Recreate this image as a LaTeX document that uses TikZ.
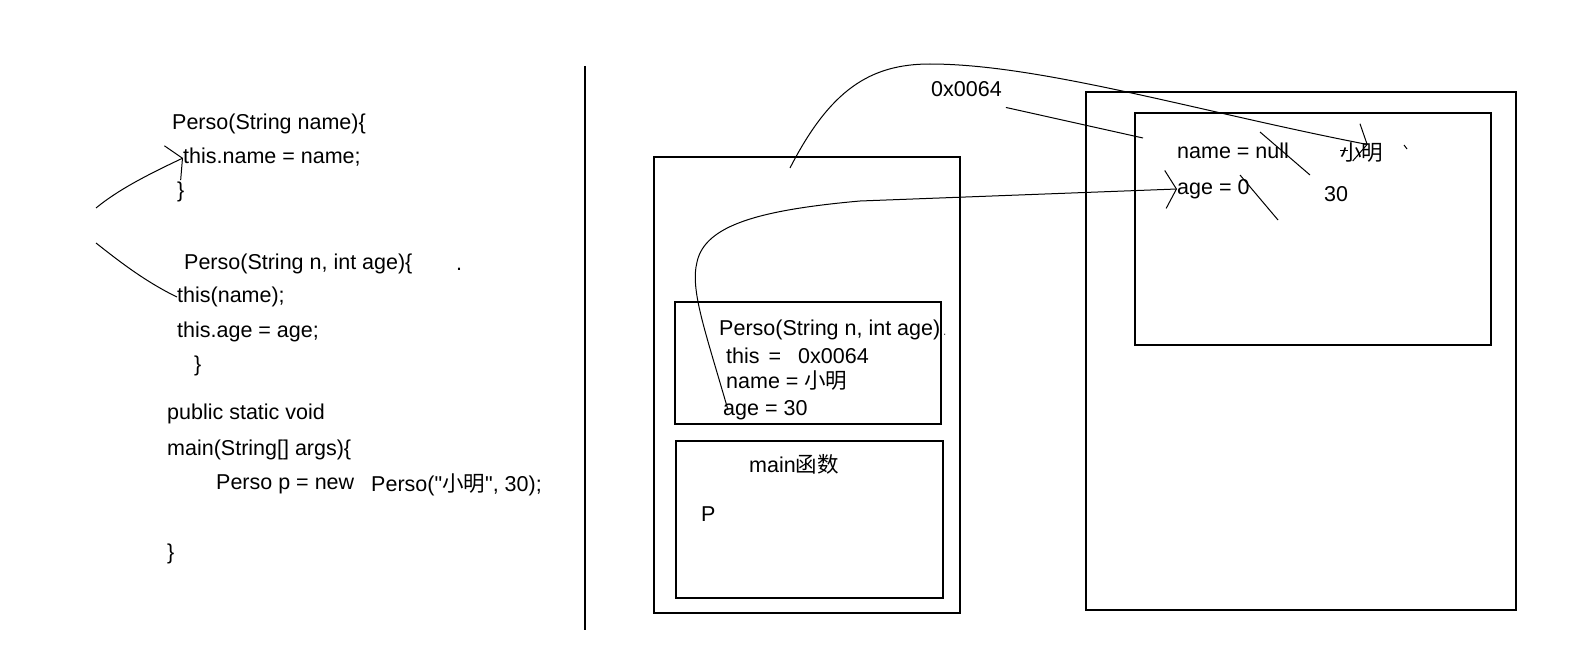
\documentclass[tikz,border=0pt]{standalone}
\usepackage{fontspec}
\setmainfont{Liberation Sans}[Ligatures=TeXOff]
\newfontfamily\cjk{Noto Sans CJK SC}
\usetikzlibrary{positioning}
\usetikzlibrary{arrows.meta}
\newcommand{\zh}[1]{{\cjk #1}}

\begin{document}
\begin{tikzpicture}[x=1pt, y=-1pt,
    code/.style={anchor=west, inner sep=0pt, text height=16pt, text depth=4.5pt, font=\fontsize{21.5}{25}\selectfont},
    frame/.style={draw, line width=1.3pt, inner sep=0pt},
    sketch/.style={line width=1pt},
    barb/.style={sketch, -{Straight Barb[length=11pt, width=38pt]}}]
    \fill[white] (0,0) rectangle (1578,658);
    \useasboundingbox (0,0) rectangle (1578,658);

    % code on the left
    \node[code] (ctorName) at (172,124) {Perso(String name)\{};
    \node[code] (thisName) at (183,158) {this.name = name;};
    \node[code] (closeName) at (177,192) {\}};
    \node[code] (ctorAge) at (184,264) {Perso(String n, int age)\{};
    \node[code] (ctorDot) at (456,265) {.};
    \node[code] (thisCall) at (177,297) {this(name);};
    \node[code, below=13.5pt of thisCall.south west, anchor=north west] (thisAge) {this.age = age;};
    \node[code] (closeAge) at (194,366) {\}};
    \node[code] (mainSig) at (167,414) {public static void};
    \node[code, below=14.5pt of mainSig.south west, anchor=north west] (mainArgs) {main(String[] args)\{};
    \node[code] (newPerso) at (216,484) {Perso p = new};
    \node[code] (newArgs) at (371,486) {Perso("\zh{小明}", 30);};
    \node[code] (closeMain) at (167,554) {\}};

    \coordinate (leftA) at (96,208);
    \coordinate (leftB) at (96,243);
    \draw[barb] (leftA) .. controls (118,190) and (145,176) .. (thisName.west);
    \draw[sketch] (leftB) .. controls (120,262) and (146,282) .. (thisCall.west);

    \draw[line width=1.3pt] (585,66) -- (585,630);

    % stack
    \node[frame, minimum width=306pt, minimum height=456pt] (stack) at (807,385) {};
    \node[frame, minimum width=266pt, minimum height=122pt] (ctorFrame) at (808,363) {};
    \node[frame, minimum width=267pt, minimum height=157pt] (mainFrame) at (809.5,519.5) {};
    \node[code] (frameSig) at (719,330) {Perso(String n, int age)};
    \node[code] (frameDot) at (943,332) {\fontsize{10}{12}\selectfont ·};
    \node[code] (thisAddr) at (726,358) {this\hspace{9pt}=\hspace{17pt}0x0064};
    \node[code] (nameStack) at (726,383) {name = \zh{小明}};
    \node[code] (ageStack) at (723,410) {age = 30};
    \node[code] (mainLabel) at (749,467) {main\zh{函数}};
    \node[code] (pVar) at (701,516) {P};

    % heap
    \node[frame, minimum width=430pt, minimum height=518pt] (heap) at (1301,351) {};
    \node[frame, minimum width=356pt, minimum height=232pt] (heapObj) at (1313,229) {};
    \node[code] (addrTop) at (931,91) {0x0064};
    \node[code] (nameHeap) at (1177,153) {name = null};
    \node[code] (xiaoming) at (1340,155) {\zh{小明}};
    \node[code] (ageHeap) at (1177,189) {age = 0};
    \node[code] (ageNew) at (1324,196) {30};

    \coordinate (objRef) at (1143,138);
    \coordinate (pRef) at (790,168);
    \draw[sketch] ([xshift=4pt, yshift=-6pt]addrTop.south east) -- (objRef);
    \draw[barb] (pRef) .. controls (830,90) and (870,64) .. (930,64)
        .. controls (1040,64) and (1200,112) .. ([xshift=6pt]xiaoming.north);
    \draw[barb] ([xshift=5pt]ageStack.west) .. controls (705,330) and (690,290) .. (697,262)
        .. controls (705,225) and (760,210) .. (860,201) -- (ageHeap.west);

    % strike marks
    \draw[sketch] (1260,132) -- (1310,175);
    \draw[sketch] (1240,175) -- (1278,220);
    \draw[sketch] (1404,145) -- (1407,149);
    \draw[sketch] (1340,150) -- (1348,150);
\end{tikzpicture}
\end{document}
